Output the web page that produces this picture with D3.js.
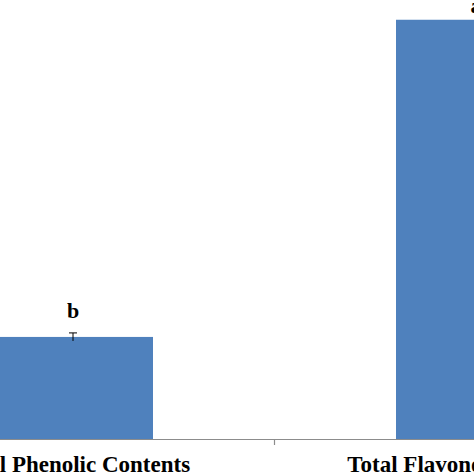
<!DOCTYPE html>
<html>
<head>
<meta charset="utf-8">
<script src="https://cdn.jsdelivr.net/npm/d3@7"></script>
<style>
  html, body { margin: 0; padding: 0; background: #fff; overflow: hidden; }
  svg { display: block; }
</style>
</head>
<body>
<svg id="chart" width="474" height="474"></svg>
<script>
const categories = ["Total Phenolic Contents", "Total Flavonoids Contents"];
const values = [27.9, 114.6];
const errors = [1.1, 0];
const letters = ["b", "a"];

const W = 474, H = 474;
const svg = d3.select("#chart");

const x = d3.scaleBand()
  .domain(categories)
  .range([-128.5, 677.5])
  .paddingInner(0.603)
  .paddingOuter(0.3015);

const y = d3.scaleLinear().domain([0, 120]).range([439, 0]);

const font = "'Liberation Serif', 'Times New Roman', serif";

// bars
svg.selectAll("rect.bar").data(categories).join("rect")
  .attr("class", "bar")
  .attr("x", d => x(d))
  .attr("width", x.bandwidth())
  .attr("y", (d, i) => y(values[i]))
  .attr("height", (d, i) => y(0) - y(values[i]))
  .attr("fill", "#4f81bd");

// error bars
categories.forEach((c, i) => {
  if (!errors[i]) return;
  const cx = x(c) + x.bandwidth() / 2;
  const g = svg.append("g").attr("stroke", "#000").attr("stroke-width", 1);
  g.append("line").attr("x1", cx).attr("x2", cx)
    .attr("y1", y(values[i] - errors[i])).attr("y2", y(values[i] + errors[i]));
  g.append("line").attr("x1", cx - 4).attr("x2", cx + 4)
    .attr("y1", y(values[i] + errors[i])).attr("y2", y(values[i] + errors[i]));
});

// significance letters
svg.selectAll("text.sig").data(categories).join("text")
  .attr("class", "sig")
  .attr("x", d => x(d) + x.bandwidth() / 2)
  .attr("y", (d, i) => Math.max(y(values[i] + errors[i]) - 15, 13))
  .attr("text-anchor", "middle")
  .attr("font-family", font)
  .attr("font-weight", "bold")
  .attr("font-size", 22)
  .text((d, i) => letters[i]);

// x axis line
svg.append("line")
  .attr("x1", 0).attr("x2", W)
  .attr("y1", y(0) + 0.5).attr("y2", y(0) + 0.5)
  .attr("stroke", "#8c8c8c").attr("stroke-width", 1.2);

// category-boundary ticks
const r = x.range();
d3.range(categories.length + 1).forEach(i => {
  const tx = r[0] + i * x.step();
  svg.append("line")
    .attr("x1", tx).attr("x2", tx)
    .attr("y1", y(0)).attr("y2", y(0) + 6)
    .attr("stroke", "#8c8c8c").attr("stroke-width", 1.2);
});

// category labels
svg.selectAll("text.cat").data(categories).join("text")
  .attr("class", "cat")
  .attr("x", d => x(d) + x.bandwidth() / 2)
  .attr("y", 472)
  .attr("text-anchor", "middle")
  .attr("font-family", font)
  .attr("font-weight", "bold")
  .attr("font-size", 23)
  .text(d => d);
</script>
</body>
</html>
